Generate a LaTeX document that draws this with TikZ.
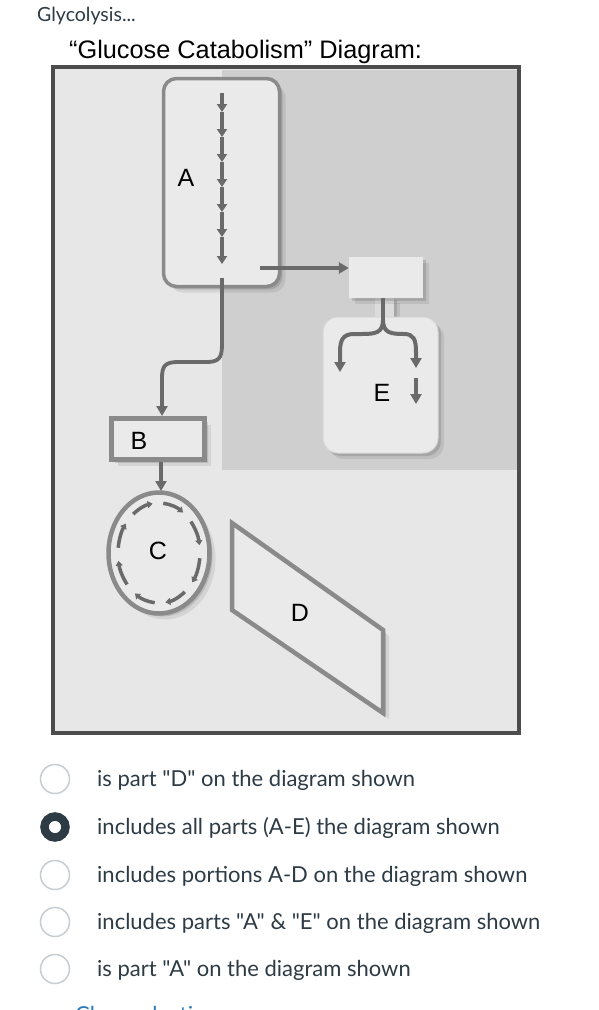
\documentclass[tikz,border=0pt]{standalone}
\usepackage{fontspec}
\setmainfont{Liberation Sans}
\newfontfamily\lato{Lato}
\usetikzlibrary{arrows.meta,shapes.geometric,shadows}
\definecolor{ink}{HTML}{2D3B45}
\definecolor{bglight}{HTML}{E7E7E7}
\definecolor{bgdark}{HTML}{CFCFCF}
\definecolor{boxfill}{HTML}{EAEAEA}
\definecolor{boxedge}{HTML}{8A8A8A}
\definecolor{arrowgray}{HTML}{6A6A6A}
\definecolor{framegray}{HTML}{4C4C4C}
\definecolor{linkblue}{HTML}{2B7ABC}
\definecolor{radioedge}{HTML}{C7CDD1}
\definecolor{neckgray}{HTML}{DCDCDC}
\tikzset{
  soft/.style={drop shadow={shadow xshift=6pt,shadow yshift=-6pt,opacity=0.08,fill=black},
               drop shadow={shadow xshift=3pt,shadow yshift=-3pt,opacity=0.12,fill=black}},
  roundbox/.style={draw=boxedge,line width=3.5pt,fill=boxfill,rounded corners=13pt,soft,inner sep=0pt},
  plainbox/.style={fill=boxfill,inner sep=0pt,soft},
  edgebox/.style={draw=boxedge,line width=4.5pt,fill=boxfill,inner sep=0pt,soft},
  lbl/.style={font=\fontsize{25}{28}\selectfont,text=black,inner sep=0pt},
  conn/.style={draw=arrowgray,line width=3.8pt,-{Triangle[width=11pt,length=10pt]}},
  chain/.style={draw=arrowgray,line width=3.4pt,-{Triangle[width=10pt,length=8pt]}},
  cyc/.style={draw=arrowgray,line width=3.5pt,-{Triangle[width=7pt,length=5pt]}},
  option/.style={font=\lato\fontsize{22}{26}\selectfont,text=ink,anchor=base west,inner sep=0pt},
  radio/.style={circle,draw=radioedge,line width=1.5pt,fill=white,minimum size=29pt,inner sep=0pt},
  radioon/.style={circle,draw=ink,line width=8.5pt,fill=white,minimum size=21pt,inner sep=0pt}
}
\begin{document}
\begin{tikzpicture}[x=1pt,y=-1pt]
\useasboundingbox[fill=white] (0,0) rectangle (598,1010);
% headings
\node[font=\lato\fontsize{19.5}{22}\selectfont,text=ink,anchor=base west,inner sep=0pt] (head) at (37,21) {Glycolysis...};
\node[font=\fontsize{25.3}{28}\selectfont,text=black,anchor=base west,inner sep=0pt] (title) at (69,58) {“Glucose Catabolism” Diagram:};
% frame
\fill[bglight] (53,67) rectangle (519,733);
\fill[bgdark] (222,70) rectangle (517,470);
\draw[framegray,line width=3.5pt] (53,67) rectangle (519,733);
% box A
\node[roundbox,minimum width=116pt,minimum height=208pt] (A) at (221.5,182.5) {};
\node[lbl] (Alab) at (186,178) {A};
\foreach \i/\y in {0/93,1/112,2/137,3/162,4/187,5/212,6/237,7/264}{\coordinate (a\i) at (222,\y);}
\foreach \i/\j in {0/1,1/2,2/3,3/4,4/5,5/6,6/7}{\draw[chain] (a\i) -- (a\j);}
% small rect, neck, box E
\node[plainbox,minimum width=19pt,minimum height=22pt,fill=neckgray] (neck) at (384.5,308) {};
\node[plainbox,minimum width=74pt,minimum height=41pt] (R) at (386,277.5) {};
\node[roundbox,draw=boxfill!92!black,line width=1pt,rounded corners=15pt,minimum width=115pt,minimum height=136pt] (E) at (380.5,385) {};
\node[lbl] (Elab) at (382,393) {E};
\coordinate (aR) at (260,268);
\draw[conn,line width=3.2pt] (aR) -- (R.west |- aR);
\coordinate (fork) at (383,320);
\coordinate (eL) at (340,372);
\coordinate (eR) at (416,368);
\draw[draw=arrowgray,line width=4pt] (R.south -| fork) -- (fork);
\draw[conn,line width=4pt] (fork) .. controls (383,333) and (375,334) .. (362,334) -- (354,334) .. controls (343,334) and (340,340) .. (340,352) -- (eL);
\draw[conn,line width=4pt] (fork) .. controls (383,333) and (391,334) .. (404,334) .. controls (414,334) and (416,340) .. (416,352) -- (eR);
\coordinate (e1) at (416,378);
\coordinate (e2) at (416,404);
\draw[conn,line width=4pt] (e1) -- (e2);
% box B
\node[edgebox,minimum width=93pt,minimum height=41pt] (B) at (158,439) {};
\node[lbl] (Blab) at (139,441) {B};
\coordinate (aA) at (222,278);
\draw[conn] (aA) -- (222,345) .. controls (222,359) and (218,362) .. (206,362) -- (178,362) .. controls (165,362) and (162,366) .. (162,378) -- (162,416);
% circle C
\node[ellipse,edgebox,minimum width=101pt,minimum height=121pt] (C) at (159,553) {};
\draw[conn,line width=3.2pt] (B.south -| 161,0) -- (161,491);
\foreach \s in {0,45,90,135,180,225,270,315}{
  \draw[cyc] ({159+41*cos(\s+6)},{553+50*sin(\s+6)}) arc[start angle=\s+6,end angle=\s+36,x radius=41,y radius=50];
}
\node[lbl] (Clab) at (158,551) {C};
% parallelogram D
\path[draw=boxedge,line width=4.5pt,fill=boxfill,soft] (232,523) -- (383,630) -- (383,713) -- (232,610) -- cycle;
\node[lbl] (Dlab) at (300,613) {D};
% options
\node[radio] (r1) at (55,779) {};
\node[radioon] (r2) at (55,827) {};
\node[radio] (r3) at (55,875) {};
\node[radio] (r4) at (55,922) {};
\node[radio] (r5) at (55,969) {};
\node[option] (o1) at (97,786) {is part "D" on the diagram shown};
\node[option] (o2) at (97,834) {includes all parts (A-E) the diagram shown};
\node[option] (o3) at (97,882) {includes portions A-D on the diagram shown};
\node[option] (o4) at (97,929) {includes parts "A" \& "E" on the diagram shown};
\node[option] (o5) at (97,976) {is part "A" on the diagram shown};
\node[option,text=linkblue] (clear) at (75,1022) {Clear selection};
\end{tikzpicture}
\end{document}
